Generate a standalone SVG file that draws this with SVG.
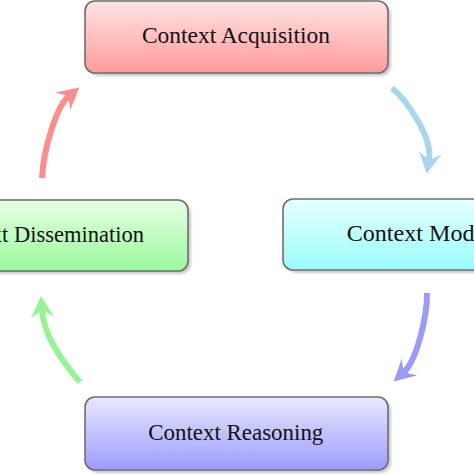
<svg xmlns="http://www.w3.org/2000/svg" width="474" height="474" viewBox="0 0 474 474">
<style>
.box{stroke:#6e6e6e;stroke-width:1.6}
.shadow{fill:#8a8a8a;opacity:0.45;filter:url(#blur)}
.lbl{font-family:"Liberation Serif","DejaVu Serif",serif;font-size:22.5px;fill:#111}
.arc{fill:none;stroke-width:6}
</style>
<defs>
<filter id="blur" x="-10%" y="-10%" width="120%" height="130%"><feGaussianBlur stdDeviation="1.2"/></filter>
<linearGradient id="gR" x1="0" y1="0" x2="0" y2="1"><stop offset="0" stop-color="#ffe4e4"/><stop offset="1" stop-color="#ff9a9a"/></linearGradient>
<linearGradient id="gG" x1="0" y1="0" x2="0" y2="1"><stop offset="0" stop-color="#e6ffe6"/><stop offset="1" stop-color="#9bf99b"/></linearGradient>
<linearGradient id="gC" x1="0" y1="0" x2="0" y2="1"><stop offset="0" stop-color="#e6ffff"/><stop offset="1" stop-color="#9bfbfb"/></linearGradient>
<linearGradient id="gB" x1="0" y1="0" x2="0" y2="1"><stop offset="0" stop-color="#e8e8ff"/><stop offset="1" stop-color="#9c9cff"/></linearGradient>
<path id="head" d="M14,0 L-7.5,-11.5 Q-2.5,-4.5 0,0 Q-2.5,4.5 -7.5,11.5 Z"/>
<marker id="mR" markerUnits="userSpaceOnUse" orient="auto" refX="0" refY="0" overflow="visible"><use href="#head" fill="#ff8c8c"/></marker>
<marker id="mC" markerUnits="userSpaceOnUse" orient="auto" refX="0" refY="0" overflow="visible"><use href="#head" fill="#a8d6ef"/></marker>
<marker id="mB" markerUnits="userSpaceOnUse" orient="auto" refX="0" refY="0" overflow="visible"><use href="#head" fill="#9a9af8"/></marker>
<marker id="mG" markerUnits="userSpaceOnUse" orient="auto" refX="0" refY="0" overflow="visible"><use href="#head" fill="#95f495"/></marker>
</defs>
<rect width="474" height="474" fill="#ffffff"/>
<g id="connectors">
<path class="arc" stroke="#ff8c8c" marker-end="url(#mR)" d="M42,178 C43.5,150 56,107 68.5,96.5"/>
<path class="arc" stroke="#a8d6ef" marker-end="url(#mC)" d="M392,88 C403.5,97.6 433,135 429,160"/>
<path class="arc" stroke="#9a9af8" marker-end="url(#mB)" d="M427,293 C427.5,315 417,360 404,372"/>
<path class="arc" stroke="#95f495" marker-end="url(#mG)" d="M80,382 C70,370.6 44,340 42,310"/>
</g>
<g id="node-acquisition">
<rect class="shadow" x="88" y="4" width="303" height="72" rx="10"/>
<rect class="box" x="85" y="1" width="303" height="72" rx="10" fill="url(#gR)"/>
<text class="lbl" x="142" y="42.5" textLength="188" lengthAdjust="spacingAndGlyphs">Context Acquisition</text>
</g>
<g id="node-modeling">
<rect class="shadow" x="286" y="202" width="303" height="71" rx="10"/>
<rect class="box" x="283" y="199" width="303" height="71" rx="10" fill="url(#gC)"/>
<text class="lbl" x="346.7" y="241" textLength="176" lengthAdjust="spacingAndGlyphs">Context Modeling</text>
</g>
<g id="node-reasoning">
<rect class="shadow" x="88" y="400" width="303" height="73" rx="10"/>
<rect class="box" x="85" y="397" width="303" height="73" rx="10" fill="url(#gB)"/>
<text class="lbl" x="148.3" y="439.5" textLength="175" lengthAdjust="spacingAndGlyphs">Context Reasoning</text>
</g>
<g id="node-dissemination">
<rect class="shadow" x="-112" y="203" width="303" height="71" rx="10"/>
<rect class="box" x="-115" y="200" width="303" height="71" rx="10" fill="url(#gG)"/>
<text class="lbl" x="-63" y="241.5" textLength="207" lengthAdjust="spacingAndGlyphs">Context Dissemination</text>
</g>
</svg>
